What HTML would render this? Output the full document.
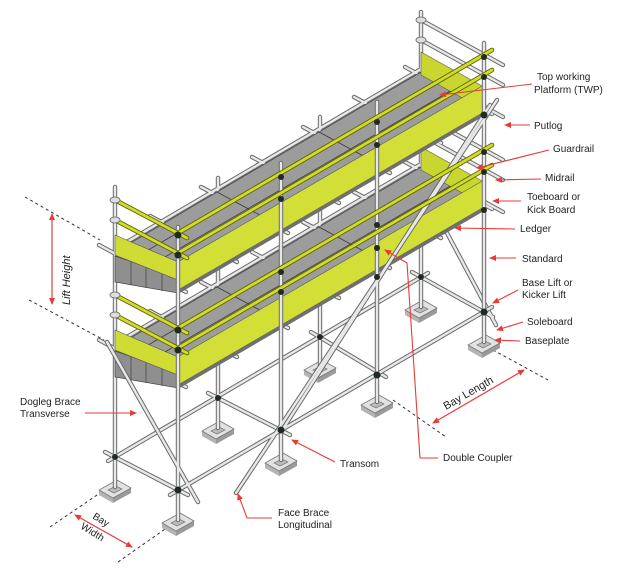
<!DOCTYPE html>
<html><head><meta charset="utf-8"><style>
html,body{margin:0;padding:0;background:#fff;}
svg{display:block;}
text{font-family:"Liberation Sans",sans-serif;font-size:10px;fill:#222;}
</style></head><body>
<svg width="638" height="569" viewBox="0 0 638 569" xmlns="http://www.w3.org/2000/svg">
<defs>
<marker id="ar" markerWidth="8" markerHeight="8" refX="6" refY="4" orient="auto" markerUnits="userSpaceOnUse">
<path d="M0,1 L7,4 L0,7 Z" fill="#e63b36"/></marker>
<marker id="as" markerWidth="8" markerHeight="8" refX="1" refY="4" orient="auto" markerUnits="userSpaceOnUse">
<path d="M7,1 L0,4 L7,7 Z" fill="#e63b36"/></marker>

<g id="back">
<line x1="115" y1="487" x2="115" y2="187"/>
<line x1="218" y1="428" x2="218" y2="178"/>
<line x1="320" y1="367" x2="320" y2="117"/>
<line x1="421" y1="307" x2="421" y2="12"/>
<line x1="108" y1="461" x2="428" y2="273"/>
<line x1="188" y1="495" x2="105" y2="452"/>
<line x1="290" y1="435" x2="208" y2="393"/>
<line x1="386" y1="377" x2="311" y2="332"/>
<line x1="493" y1="317" x2="412" y2="272"/>
<line x1="447" y1="233" x2="496" y2="325"/>
<line x1="186" y1="387" x2="99" y2="340"/><line x1="237" y1="357" x2="150" y2="311"/>
<line x1="288" y1="328" x2="201" y2="282"/><line x1="339" y1="298" x2="252" y2="252"/>
<line x1="390" y1="268" x2="303" y2="222"/><line x1="441" y1="238" x2="354" y2="192"/>
<line x1="492" y1="209" x2="405" y2="162"/>
<line x1="186" y1="292" x2="99" y2="245"/><line x1="237" y1="262" x2="150" y2="216"/>
<line x1="288" y1="233" x2="201" y2="187"/><line x1="339" y1="203" x2="252" y2="157"/>
<line x1="390" y1="173" x2="303" y2="127"/><line x1="441" y1="143" x2="354" y2="97"/>
<line x1="492" y1="114" x2="405" y2="67"/>
<line x1="115" y1="344" x2="421" y2="164"/>
<line x1="115" y1="249" x2="421" y2="69"/>
<line x1="421" y1="20" x2="503" y2="65"/><line x1="421" y1="40" x2="503" y2="85"/>
<line x1="421" y1="115" x2="503" y2="160"/><line x1="421" y1="135" x2="503" y2="180"/>
<line x1="421" y1="167" x2="503" y2="212"/><line x1="421" y1="72" x2="503" y2="117"/>
</g>
<g id="front">
<line x1="178" y1="520" x2="178" y2="227"/>
<line x1="281" y1="460" x2="281" y2="163"/>
<line x1="377" y1="402" x2="377" y2="102"/>
<line x1="484" y1="342" x2="484" y2="43"/>
<line x1="170" y1="495" x2="492" y2="307"/>
<line x1="236" y1="493" x2="497" y2="100"/>
<line x1="281" y1="432" x2="490" y2="105"/>
<line x1="107" y1="342" x2="198" y2="502"/>
</g>
<g id="yel">
<line x1="178" y1="233" x2="492" y2="50"/><line x1="178" y1="253" x2="492" y2="70"/>
<line x1="178" y1="328" x2="492" y2="145"/><line x1="178" y1="348" x2="492" y2="165"/>
<line x1="187" y1="238" x2="115" y2="200"/><line x1="187" y1="258" x2="115" y2="220"/>
<line x1="187" y1="333" x2="115" y2="295"/><line x1="187" y1="353" x2="115" y2="315"/>
</g>
<g id="sole">
<polygon points="-16,3 -2,11 -2,16 -16,8" fill="#b4b4b4"/>
<polygon points="-2,11 16,1 16,6 -2,16" fill="#9a9a9a"/>
<polygon points="-16,3 -2,11 16,1 2,-7" fill="#e2e2e2" stroke="#777" stroke-width="0.8"/>
<polygon points="-7,3 -1,6 7,2 1,-1" fill="#bbb" stroke="#666" stroke-width="0.6"/>
</g>
<g id="deck">
<polygon points="115,252 178,285 484,107 421,72" fill="#9c9c9c" stroke="#444" stroke-width="0.8"/>
<g stroke="#3a3a3a" stroke-width="0.8">
<line x1="162" y1="277" x2="468" y2="99"/><line x1="146" y1="268" x2="452" y2="90"/>
<line x1="131" y1="260" x2="437" y2="82"/>
<line x1="280" y1="226" x2="217" y2="192"/><line x1="382" y1="166" x2="319" y2="132"/>
</g>
<polygon points="115,256 178,278 178,293 115,282" fill="#8f8f8f" stroke="#444" stroke-width="0.7"/>
<g stroke="#444" stroke-width="0.7">
<line x1="131" y1="262" x2="131" y2="285"/><line x1="146" y1="267" x2="146" y2="288"/><line x1="162" y1="273" x2="162" y2="291"/>
</g>
<polygon points="421,52 484,87 484,110 421,75" fill="#c9d62f" stroke="#555" stroke-width="0.6"/>
<polygon points="115,235 178,262 178,280 115,255" fill="#cfdc33" stroke="#555" stroke-width="0.6"/>
<polygon points="178,262 484,85 484,112 178,290" fill="#d2df36" stroke="#555" stroke-width="0.6"/>
<polygon points="178,290 484,112 484,116 178,294" fill="#6f6f6f"/>
</g>
</defs>

<!-- dimension lines -->
<g stroke="#333" stroke-width="1" stroke-dasharray="3,3" fill="none">
<line x1="25" y1="197" x2="100" y2="240"/>
<line x1="29" y1="300" x2="104" y2="340"/>
<line x1="393" y1="400" x2="446" y2="437"/>
<line x1="493" y1="350" x2="548" y2="380"/>
<line x1="50" y1="527" x2="100" y2="493"/>
<line x1="118" y1="562" x2="168" y2="527"/>
</g>
<g stroke="#e63b36" stroke-width="1.2" fill="none">
<line x1="52" y1="214" x2="52" y2="304" marker-start="url(#as)" marker-end="url(#ar)"/>
<line x1="433" y1="423" x2="524" y2="370" marker-start="url(#as)" marker-end="url(#ar)"/>
<line x1="75" y1="515" x2="132" y2="547" marker-start="url(#as)" marker-end="url(#ar)"/>
</g>
<text transform="translate(70,305) rotate(-90)" font-style="italic" style="font-size:11px">Lift Height</text>
<text transform="translate(446,410) rotate(-30)" style="font-size:11px">Bay Length</text>
<text transform="translate(92,518) rotate(32)" style="font-size:10px">Bay</text>
<text transform="translate(80,528) rotate(32)" style="font-size:10px">Width</text>

<!-- soleboards -->
<use href="#sole" x="178" y="520"/><use href="#sole" x="281" y="460"/>
<use href="#sole" x="377" y="402"/><use href="#sole" x="484" y="342"/>
<use href="#sole" x="115" y="487"/><use href="#sole" x="218" y="428"/>
<use href="#sole" x="320" y="367"/><use href="#sole" x="421" y="307"/>

<!-- back tubes -->
<use href="#back" stroke="#6a6a6a" stroke-width="4.4" stroke-linecap="round"/>
<use href="#back" stroke="#e8e8e8" stroke-width="2.4" stroke-linecap="round"/>

<!-- decks -->
<use href="#deck" y="95"/>
<use href="#deck"/>

<!-- front tubes -->
<use href="#front" stroke="#6a6a6a" stroke-width="4.4" stroke-linecap="round"/>
<use href="#front" stroke="#e8e8e8" stroke-width="2.4" stroke-linecap="round"/>
<use href="#yel" stroke="#5e6300" stroke-width="4.6" stroke-linecap="round"/>
<use href="#yel" stroke="#cfdc2c" stroke-width="2.8" stroke-linecap="round"/>

<!-- couplers -->
<g fill="#1e2a22">
<circle cx="178" cy="235" r="3.5"/><circle cx="178" cy="255" r="3.5"/>
<circle cx="178" cy="330" r="3.5"/><circle cx="178" cy="350" r="3.5"/>
<circle cx="178" cy="490" r="3.5"/><circle cx="115" cy="457" r="3"/>
<circle cx="281" cy="177" r="3"/><circle cx="281" cy="199" r="3"/>
<circle cx="281" cy="272" r="3"/><circle cx="281" cy="292" r="3"/><circle cx="281" cy="430" r="3.5"/>
<circle cx="377" cy="122" r="3"/><circle cx="377" cy="145" r="3"/>
<circle cx="377" cy="225" r="3"/><circle cx="377" cy="248" r="3"/><circle cx="377" cy="277" r="3"/><circle cx="377" cy="375" r="3.5"/>
<circle cx="484" cy="57" r="3"/><circle cx="484" cy="77" r="3"/><circle cx="484" cy="115" r="3.5"/>
<circle cx="484" cy="152" r="3"/><circle cx="484" cy="172" r="3"/><circle cx="484" cy="210" r="3"/><circle cx="484" cy="312" r="3.5"/>
<circle cx="320" cy="337" r="3"/><circle cx="218" cy="398" r="3"/><circle cx="421" cy="277" r="3"/>
</g>
<g fill="#ddd" stroke="#666" stroke-width="0.8">
<ellipse cx="115" cy="200" rx="5" ry="3"/><ellipse cx="115" cy="220" rx="5" ry="3"/>
<ellipse cx="115" cy="295" rx="5" ry="3"/><ellipse cx="115" cy="315" rx="5" ry="3"/>
<ellipse cx="421" cy="20" rx="5" ry="3"/><ellipse cx="421" cy="40" rx="5" ry="3"/>
</g>

<!-- leaders -->
<g stroke="#e63b36" stroke-width="1.1" fill="none">
<line x1="532" y1="84" x2="440" y2="95" marker-end="url(#ar)"/>
<line x1="530" y1="125" x2="505" y2="125" marker-end="url(#ar)"/>
<line x1="549" y1="150" x2="477" y2="168" marker-end="url(#ar)"/>
<line x1="541" y1="179" x2="496" y2="180" marker-end="url(#ar)"/>
<line x1="521" y1="201" x2="493" y2="201" marker-end="url(#ar)"/>
<line x1="515" y1="229" x2="455" y2="228" marker-end="url(#ar)"/>
<line x1="516" y1="258" x2="490" y2="258" marker-end="url(#ar)"/>
<line x1="518" y1="290" x2="493" y2="303" marker-end="url(#ar)"/>
<line x1="523" y1="322" x2="497" y2="330" marker-end="url(#ar)"/>
<line x1="520" y1="341" x2="495" y2="340" marker-end="url(#ar)"/>
<polyline points="438,458 420,458 407,263 385,250" marker-end="url(#ar)"/>
<line x1="335" y1="462" x2="292" y2="440" marker-end="url(#ar)"/>
<polyline points="272,518 247,518 238,494" marker-end="url(#ar)"/>
<line x1="85" y1="413" x2="136" y2="413" marker-end="url(#ar)"/>
</g>

<!-- labels -->
<text x="537" y="80">Top working</text>
<text x="534" y="93">Platform (TWP)</text>
<text x="534" y="129">Putlog</text>
<text x="553" y="152">Guardrail</text>
<text x="545" y="181">Midrail</text>
<text x="527" y="200">Toeboard or</text>
<text x="527" y="213">Kick Board</text>
<text x="520" y="232">Ledger</text>
<text x="522" y="262">Standard</text>
<text x="522" y="286">Base Lift or</text>
<text x="522" y="298">Kicker Lift</text>
<text x="527" y="325">Soleboard</text>
<text x="525" y="344">Baseplate</text>
<text x="443" y="461">Double Coupler</text>
<text x="340" y="467">Transom</text>
<text x="278" y="516">Face Brace</text>
<text x="278" y="528">Longitudinal</text>
<text x="20" y="405">Dogleg Brace</text>
<text x="20" y="417">Transverse</text>
</svg>
</body></html>
